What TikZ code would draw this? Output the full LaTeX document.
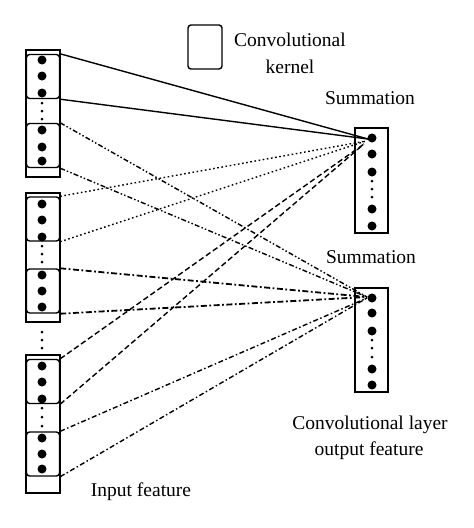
\documentclass[tikz,border=0pt]{standalone}
\usepackage{fontspec}
\setmainfont{Liberation Serif}
\begin{document}
\begin{tikzpicture}[x=1pt,y=-1pt,
  outerbox/.style={draw,line width=1.3pt,inner sep=0pt,minimum width=34pt},
  kbox/.style={draw,line width=1.4pt,rounded corners=3pt,inner sep=0pt,minimum width=33pt,minimum height=44pt},
  bigdot/.style={circle,fill=black,inner sep=0pt,minimum size=9pt},
  smalldot/.style={circle,fill=black,inner sep=0pt,minimum size=3pt},
  lbl/.style={font=\fontsize{19.5}{22}\selectfont,inner sep=0pt},
  conn/.style={line width=1.4pt},
  ksolid/.style={conn},
  kdashdotdot/.style={conn,dash pattern=on 5pt off 2.2pt on 1.5pt off 2.2pt on 1.5pt off 2.2pt},
  kdotted/.style={conn,dash pattern=on 1.6pt off 2.6pt},
  kdashdot/.style={conn,line width=1.8pt,dash pattern=on 6pt off 2.5pt on 1.8pt off 2.5pt},
  kdashed/.style={conn,dash pattern=on 5.5pt off 3pt},
  kdashdotthin/.style={conn,dash pattern=on 5pt off 2.5pt on 1.5pt off 2.5pt}]
\useasboundingbox (0,0) rectangle (474,528);
% input groups
\node[outerbox,minimum height=127pt] (g1) at (43,113.5) {};
\node[outerbox,minimum height=129pt] (g2) at (43,257.5) {};
\node[outerbox,minimum height=138pt] (g3) at (43,424) {};
% kernels
\node[kbox] (k1) at (43,76.5) {};
\node[kbox] (k2) at (43,145.5) {};
\node[kbox] (k3) at (43,219) {};
\node[kbox] (k4) at (43,291) {};
\node[kbox] (k5) at (43,381.5) {};
\node[kbox] (k6) at (43,454) {};
% input dots
\foreach \y [count=\i] in {60,76,93,130,147,161,204,220,237,275,291,307,366,382,399,438,454,469}
  \node[bigdot] (id\i) at (42,\y) {};
\foreach \y [count=\i] in {103,111,119,246,254,262,408,417,426,332,340,348}
  \node[smalldot] (is\i) at (42,\y) {};
% output boxes
\node[outerbox,minimum width=33pt,minimum height=105pt] (o1) at (371.5,180.5) {};
\node[outerbox,minimum width=33pt,minimum height=104pt] (o2) at (371.5,340) {};
\foreach \y [count=\i] in {138,154,172,209,226}
  \node[bigdot] (oa\i) at (372,\y) {};
\foreach \y [count=\i] in {181,189,197}
  \node[smalldot] (oas\i) at (372,\y) {};
\foreach \y [count=\i] in {298,313,331,369,385}
  \node[bigdot] (ob\i) at (372,\y) {};
\foreach \y [count=\i] in {340,348,357}
  \node[smalldot] (obs\i) at (372,\y) {};
% end points
\coordinate (e1) at (368,139);
\coordinate (e3) at (366,141);
\coordinate (e5) at (364,144);
\coordinate (f2) at (367,297);
\coordinate (f4) at (367,297);
\coordinate (f6) at (367,298);
% connections
\draw[ksolid] (k1.north east) -- (e1);
\draw[ksolid] (k1.south east) -- (e1);
\draw[kdashdotdot] (k2.north east) -- (f2);
\draw[kdashdotdot] (k2.south east) -- (f2);
\draw[kdotted] (k3.north east) -- (e3);
\draw[kdotted] (k3.south east) -- (e3);
\draw[kdashdot] (k4.north east) -- (f4);
\draw[kdashdot] (k4.south east) -- (f4);
\draw[kdashed] (k5.north east) -- (e5);
\draw[kdashed] (k5.south east) -- (e5);
\draw[kdashdotthin] (k6.north east) -- (f6);
\draw[kdashdotthin] (k6.south east) -- (f6);
% legend
\node[kbox,minimum width=34pt] (leg) at (205,47) {};
\node[lbl] (t1) at (290,40) {Convolutional};
\node[lbl] (t2) at (290,67) {kernel};
\node[lbl] (s1) at (370,98) {Summation};
\node[lbl] (s2) at (371,257) {Summation};
\node[lbl] (t3) at (370,425) {Convolutional layer};
\node[lbl] (t4) at (369,451) {output feature};
\node[lbl] (t5) at (141,492) {Input feature};
\end{tikzpicture}
\end{document}
